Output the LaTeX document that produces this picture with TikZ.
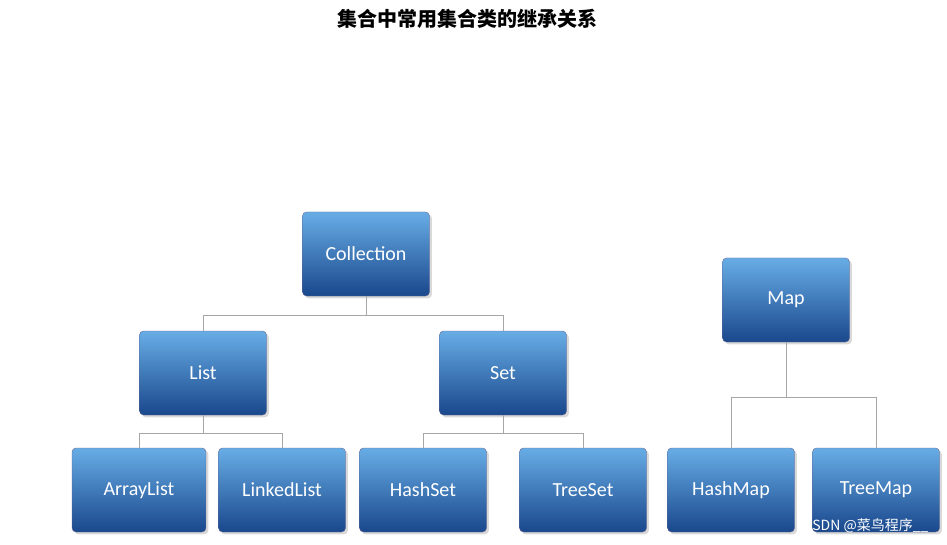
\documentclass[tikz,border=0pt]{standalone}
\usepackage{fontspec}
\setmainfont{Carlito}
\newfontfamily\cjk{Noto Sans CJK SC}
\usetikzlibrary{shadows}
\tikzset{
  classbox/.style = {shape=rectangle, rounded corners=4pt, draw=blue!30!black!60,
                     top color=blue!45!cyan!55!white!90!black, bottom color=blue!60!cyan!50!black!90,
                     minimum width=127pt, minimum height=84pt, text=white,
                     font=\fontsize{20}{24}\selectfont, drop shadow={opacity=0.3}},
  link/.style     = {draw=gray!70, line width=0.8pt}
}
\begin{document}
\begin{tikzpicture}[x=1pt,y=-1pt]
  \useasboundingbox (0,0) rectangle (947,545);
  \node [font=\cjk\bfseries\fontsize{20}{24}\selectfont] (title) at (467,19) {集合中常用集合类的继承关系};
  % top level
  \node [classbox] (coll) at (366,254) {Collection};
  \node [classbox] (map) at (786,300) {Map};
  % second level
  \node [classbox] (list) at (203,373) {List};
  \node [classbox] (set) at (503,373) {Set};
  % leaves
  \node [classbox, minimum width=134pt] (alist) at (139,490) {ArrayList};
  \node [classbox] (llist) at (282,490) {LinkedList};
  \node [classbox] (hset) at (423,490) {HashSet};
  \node [classbox] (tset) at (583,490) {TreeSet};
  \node [classbox] (hmap) at (731,490) {HashMap};
  \node [classbox] (tmap) at (876,490) {TreeMap};
  % connectors
  \draw [link] (coll.south) -- (366,315) -| (list.north);
  \draw [link] (366,315) -| (set.north);
  \draw [link] (list.south) -- (203,433) -| (alist.north);
  \draw [link] (203,433) -| (llist.north);
  \draw [link] (set.south) -- (503,433) -| (hset.north);
  \draw [link] (503,433) -| (tset.north);
  \draw [link] (map.south) -- (786,397) -| (hmap.north);
  \draw [link] (786,397) -| (tmap.north);
  \node [text=white, font=\cjk\fontsize{14}{16}\selectfont, anchor=east] (mark) at (932,526) {CSDN @菜鸟程序\_\_};
\end{tikzpicture}
\end{document}
